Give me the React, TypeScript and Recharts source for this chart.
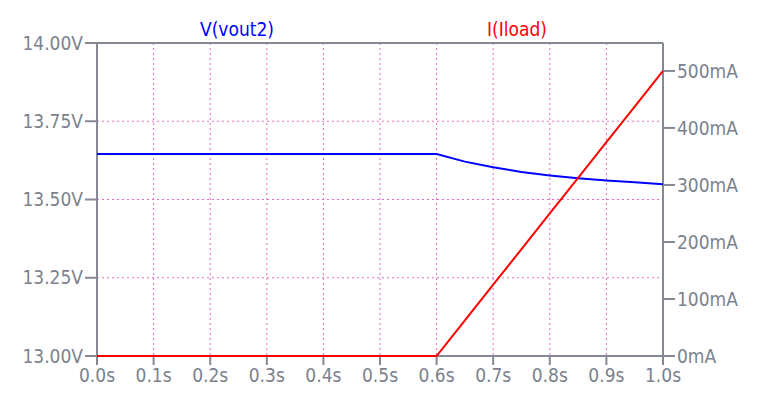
import {
  LineChart,
  Line,
  XAxis,
  YAxis,
  CartesianGrid,
  ReferenceLine,
} from "recharts";

const time = [0, 0.1, 0.2, 0.3, 0.4, 0.5, 0.6, 0.65, 0.7, 0.75, 0.8, 0.85, 0.9, 0.95, 1.0];
const vout2 = [
  13.645, 13.645, 13.645, 13.645, 13.645, 13.645, 13.645, 13.621, 13.603, 13.588,
  13.577, 13.568, 13.561, 13.555, 13.549,
];
const iload = [0, 0, 0, 0, 0, 0, 0, 62.5, 125, 187.5, 250, 312.5, 375, 437.5, 500];

const timeTicks = [0, 0.1, 0.2, 0.3, 0.4, 0.5, 0.6, 0.7, 0.8, 0.9, 1.0];
const voltTicks = [13.0, 13.25, 13.5, 13.75, 14.0];
const currentTicks = [0, 100, 200, 300, 400, 500];

const data = time.map((t, i) => ({ t, v: vout2[i], i: iload[i] }));

const axisGray = "#848993";
const textGray = "#7b828d";
const font = "'DejaVu Sans Condensed', 'DejaVu Sans', Verdana, sans-serif";
const tickStyle = { fill: textGray, fontSize: 19, fontFamily: font };

export default function App() {
  return (
    <div style={{ position: "absolute", left: 0, top: 0, width: 765, height: 410, background: "#fff" }}>
      <div
        style={{
          position: "absolute",
          top: 17,
          left: 0,
          width: 765,
          fontFamily: font,
          fontSize: 19,
          lineHeight: "24px",
        }}
      >
        <span style={{ position: "absolute", left: 200, color: "#0000ff" }}>V(vout2)</span>
        <span style={{ position: "absolute", left: 487, color: "#ff0000" }}>I(Iload)</span>
      </div>
      <LineChart
        width={765}
        height={410}
        data={data}
        margin={{ top: 43, right: 0, bottom: 0, left: 0 }}
      >
        <CartesianGrid
          yAxisId="left"
          stroke="#e06cc4"
          strokeDasharray="2 3"
          strokeWidth={1}
        />
        <ReferenceLine yAxisId="left" y={14} stroke={axisGray} strokeWidth={2} />
        <XAxis
          dataKey="t"
          type="number"
          domain={[0, 1]}
          ticks={timeTicks}
          height={54}
          tickFormatter={(v: number) => `${v.toFixed(1)}s`}
          axisLine={{ stroke: axisGray, strokeWidth: 2 }}
          tickLine={{ stroke: axisGray, strokeWidth: 2 }}
          tickSize={9}
          tickMargin={4}
          tick={tickStyle}
          interval={0}
        />
        <YAxis
          yAxisId="left"
          orientation="left"
          type="number"
          domain={[13, 14]}
          ticks={voltTicks}
          width={97}
          tickFormatter={(v: number) => `${v.toFixed(2)}V`}
          axisLine={{ stroke: axisGray, strokeWidth: 2 }}
          tickLine={{ stroke: axisGray, strokeWidth: 2 }}
          tickSize={12}
          tickMargin={2}
          tick={tickStyle}
          interval={0}
        />
        <YAxis
          yAxisId="right"
          orientation="right"
          type="number"
          domain={[0, 549]}
          ticks={currentTicks}
          width={102}
          tickFormatter={(v: number) => `${v}mA`}
          axisLine={{ stroke: axisGray, strokeWidth: 2 }}
          tickLine={{ stroke: axisGray, strokeWidth: 2 }}
          tickSize={12}
          tickMargin={2}
          tick={tickStyle}
          interval={0}
        />
        <Line
          yAxisId="left"
          dataKey="v"
          type="linear"
          stroke="#0000ff"
          strokeWidth={2}
          dot={false}
          zIndex={600}
          isAnimationActive={false}
        />
        <Line
          yAxisId="right"
          dataKey="i"
          type="linear"
          stroke="#ff0000"
          strokeWidth={2}
          dot={false}
          zIndex={600}
          isAnimationActive={false}
        />
      </LineChart>
    </div>
  );
}
